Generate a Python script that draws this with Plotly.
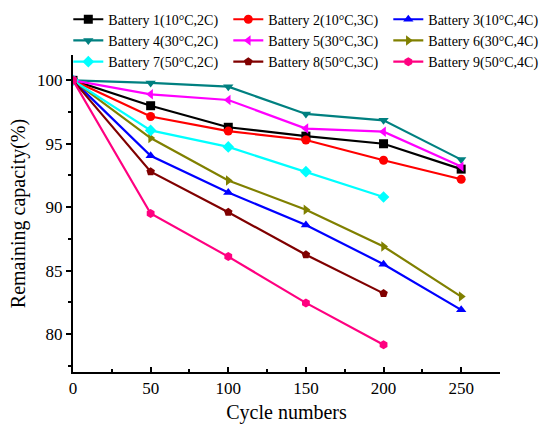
import plotly.graph_objects as go

# Data
cycles_long = [0, 50, 100, 150, 200, 250]
cycles_short = [0, 50, 100, 150, 200]

battery1 = [100, 98.0, 96.3, 95.6, 95.0, 93.0]
battery2 = [100, 97.15, 96.0, 95.3, 93.7, 92.2]
battery3 = [100, 94.05, 91.15, 88.6, 85.5, 81.9]
battery4 = [100, 99.8, 99.5, 97.35, 96.85, 93.75]
battery5 = [100, 98.9, 98.45, 96.2, 95.95, 93.2]
battery6 = [100, 95.45, 92.1, 89.8, 86.9, 82.95]
battery7 = [100, 96.05, 94.75, 92.8, 90.8]
battery8 = [100, 92.8, 89.6, 86.25, 83.2]
battery9 = [100, 89.5, 86.1, 82.45, 79.15]

names = [
    "Battery 1(10°C,2C)", "Battery 2(10°C,3C)", "Battery 3(10°C,4C)",
    "Battery 4(30°C,2C)", "Battery 5(30°C,3C)", "Battery 6(30°C,4C)",
    "Battery 7(50°C,2C)", "Battery 8(50°C,3C)", "Battery 9(50°C,4C)",
]
series = [battery1, battery2, battery3, battery4, battery5,
          battery6, battery7, battery8, battery9]
xs = [cycles_long] * 6 + [cycles_short] * 3

colors = ["#000000", "#FF0000", "#0000FF", "#008080", "#FF00FF",
          "#808000", "#00FFFF", "#800000", "#FF0080"]
symbols = ["square", "circle", "triangle-up", "triangle-down", "triangle-left",
           "triangle-right", "diamond", "pentagon", "hexagon"]

font_family = "Liberation Serif"

fig = go.Figure()
for name, x, y, c, s in zip(names, xs, series, colors, symbols):
    fig.add_trace(go.Scatter(
        x=x, y=y, name=name, mode="lines+markers",
        line=dict(color=c, width=2.2),
        marker=dict(symbol=s, size=9, color=c),
    ))

fig.update_layout(
    width=550, height=436,
    margin=dict(l=73, r=50, t=55, b=64, autoexpand=False),
    paper_bgcolor="white", plot_bgcolor="white",
    font=dict(family=font_family, size=17, color="black"),
    showlegend=True,
    legend=dict(
        orientation="h", x=-0.011, y=1.162, xanchor="left", yanchor="top",
        font=dict(family=font_family, size=14, color="black"),
        entrywidth=115, entrywidthmode="pixels",
        bgcolor="rgba(0,0,0,0)", tracegroupgap=0, itemwidth=30,
    ),
    xaxis=dict(
        range=[0, 275], tickvals=[0, 50, 100, 150, 200, 250],
        showgrid=False, zeroline=False, automargin=False,
        showline=True, linecolor="black", linewidth=2,
        ticks="inside", ticklen=5, tickwidth=2, tickcolor="black",
        minor=dict(dtick=25, ticks="inside", ticklen=3, tickwidth=1.5, tickcolor="black"),
        title=dict(text="Cycle numbers", standoff=8),
    ),
    yaxis=dict(
        range=[77, 102], tickvals=[80, 85, 90, 95, 100],
        showgrid=False, zeroline=False, automargin=False,
        showline=True, linecolor="black", linewidth=2,
        ticks="outside", ticklen=5, tickwidth=2, tickcolor="black",
        minor=dict(dtick=2.5, ticks="outside", ticklen=3, tickwidth=1.5, tickcolor="black"),
        title=dict(text="Remaining capacity(%)", standoff=6),
    ),
)

fig.write_html("out.html", config={"displayModeBar": False},
               post_script="document.body.style.margin='0';")
